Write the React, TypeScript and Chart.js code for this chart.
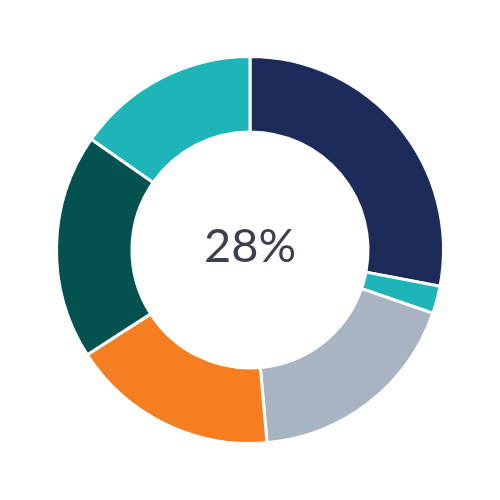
import React, { useEffect, useRef } from 'react';
import { Chart, registerables, Plugin } from 'chart.js';

Chart.register(...registerables);

const labels = ['A', 'B', 'C', 'D', 'E', 'F'];
const values = [28, 2.3, 18.3, 17.3, 18.8, 15.3];
const colors = ['#1c2b5a', '#1eb5b8', '#a9b4c2', '#f47e20', '#03524f', '#1eb5b8'];
const centerLabel = '28%';

const centerText: Plugin<'doughnut'> = {
  id: 'centerText',
  afterDraw(chart) {
    const { ctx, chartArea } = chart;
    const x = (chartArea.left + chartArea.right) / 2;
    const y = (chartArea.top + chartArea.bottom) / 2;
    ctx.save();
    ctx.font = '47px Lato, sans-serif';
    ctx.fillStyle = '#3b404b';
    ctx.textAlign = 'center';
    ctx.textBaseline = 'middle';
    ctx.fillText(centerLabel, x, y - 3);
    ctx.restore();
  },
};

export default function App() {
  const chartRef = useRef<HTMLCanvasElement>(null);
  const chartInstance = useRef<Chart<'doughnut'> | null>(null);

  useEffect(() => {
    if (!chartRef.current) return;
    if (chartInstance.current) chartInstance.current.destroy();
    chartInstance.current = new Chart(chartRef.current, {
      type: 'doughnut',
      data: {
        labels,
        datasets: [
          {
            data: values,
            backgroundColor: colors,
            borderColor: '#ffffff',
            borderWidth: 3,
          },
        ],
      },
      options: {
        animation: false,
        responsive: false,
        cutout: '61%',
        layout: { padding: 55 },
        plugins: {
          legend: { display: false },
          tooltip: { enabled: false },
        },
      },
      plugins: [centerText],
    });
    return () => {
      if (chartInstance.current) {
        chartInstance.current.destroy();
        chartInstance.current = null;
      }
    };
  }, []);

  return (
    <div style={{ position: 'fixed', left: 0, top: 0, width: 500, height: 500, background: '#fff' }}>
      <canvas ref={chartRef} width={500} height={500} />
    </div>
  );
}
